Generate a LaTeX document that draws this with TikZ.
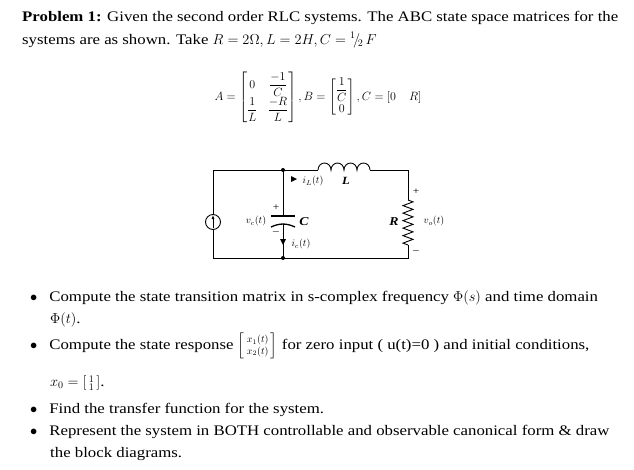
\documentclass[tikz,border=0pt]{standalone}
\usepackage{fontspec}
\setmainfont{Liberation Serif}[FakeStretch=1.15]
\usepackage{amsmath}
\usetikzlibrary{decorations.pathmorphing,arrows.meta}
\begin{document}
\begin{tikzpicture}[x=1pt,y=-1pt,
  txt/.style={anchor=west,inner sep=0,font=\fontsize{14.6}{17}\selectfont},
  wire/.style={line width=0.9pt},
  lbl/.style={font=\fontsize{10}{11}\selectfont\itshape,inner sep=1pt}]
\useasboundingbox (0,0) rectangle (634,469);
\node[txt] (l1) at (22,18) {\textbf{Problem 1:} Given the second order RLC systems. The ABC state space matrices for the};
\node[txt] (l2) at (22,40) {systems are as shown. Take $R=2\Omega, L=2H, C={}^1\!/\!_2\,F$};
\node[inner sep=0,font=\fontsize{13}{15}\selectfont] (mat) at (318,97)
 {$A=\begin{bmatrix}0 & \dfrac{-1}{C}\\[4pt] \dfrac{1}{L} & \dfrac{-R}{L}\end{bmatrix},B=\begin{bmatrix}\dfrac{1}{C}\\[2pt]0\end{bmatrix},C=[0\quad R]$};
% circuit
\coordinate (tl) at (213,170); \coordinate (bl) at (213,258);
\coordinate (tc) at (283,170); \coordinate (bc) at (283,258);
\coordinate (tr) at (408,170); \coordinate (br) at (408,258);
\coordinate (ls) at (318,170); \coordinate (le) at (370,170);
\coordinate (rs) at (408,200); \coordinate (re) at (408,245);
\coordinate (cp1) at (283,216); \coordinate (cp2) at (283,224);
\node[draw,circle,wire,minimum size=15pt,inner sep=0] (src) at (213,222) {};
\draw[wire] (src.north) -- (tl) -- (ls);
\draw[wire] (src.south) -- (bl) -- (br) -- (re);
\draw[wire] (ls) arc[start angle=180,end angle=0,x radius=6.5pt,y radius=7pt]
  arc[start angle=180,end angle=0,x radius=6.5pt,y radius=7pt]
  arc[start angle=180,end angle=0,x radius=6.5pt,y radius=7pt]
  arc[start angle=180,end angle=0,x radius=6.5pt,y radius=7pt];
\draw[wire] (le) -- (tr) -- (rs);
\draw[wire,decorate,decoration={zigzag,segment length=7.5pt,amplitude=5pt}] (rs) -- (re);
\draw[wire] (tc) -- (cp1); \draw[wire] (cp2) -- (bc);
\draw[line width=1.3pt] (271,216) -- (295,216);
\draw[line width=1.3pt] (271,227) to[bend left=25] (295,227);
\draw[-{Latex[length=4pt]},line width=0.8pt] (213,228) -- (213,215);
\fill (tc) circle (2pt); \fill (bc) circle (2pt);
\fill (297,179) -- (291,176) -- (291,182) -- cycle;
\fill (283,245) -- (280,239) -- (286,239) -- cycle;
\node[lbl] at (313,181) {$i_L(t)$};
\node[lbl,font=\fontsize{11}{12}\selectfont\bfseries\itshape] at (346,181) {L};
\node[lbl] at (256,221) {$v_c(t)$};
\node[lbl] at (276,208) {+}; \node[lbl] at (276,233) {--};
\node[lbl,font=\fontsize{12}{13}\selectfont\bfseries\itshape] at (304,222) {C};
\node[lbl] at (301,244) {$i_c(t)$};
\node[lbl,font=\fontsize{12}{13}\selectfont\bfseries\itshape] at (394,222) {R};
\node[lbl] at (434,221) {$v_o(t)$};
\node[lbl] at (416,192) {+}; \node[lbl] at (416,252) {--};
% bullets
\node[txt] (b1) at (30,298) {$\bullet$\hspace{12pt}Compute the state transition matrix in s-complex frequency $\Phi(s)$ and time domain};
\node[txt] (b1b) at (50,320) {$\Phi(t)$.};
\node[txt] (b2) at (30,346) {$\bullet$\hspace{12pt}Compute the state response $\left[\begin{smallmatrix}x_1(t)\\x_2(t)\end{smallmatrix}\right]$ for zero input ( u(t)=0 ) and initial conditions,};
\node[txt] (b2b) at (50,383) {$x_0=\left[\begin{smallmatrix}1\\1\end{smallmatrix}\right]$.};
\node[txt] (b3) at (30,410) {$\bullet$\hspace{12pt}Find the transfer function for the system.};
\node[txt] (b4) at (30,432) {$\bullet$\hspace{12pt}Represent the system in BOTH controllable and observable canonical form \& draw};
\node[txt] (b4b) at (50,454) {the block diagrams.};
\end{tikzpicture}
\end{document}
